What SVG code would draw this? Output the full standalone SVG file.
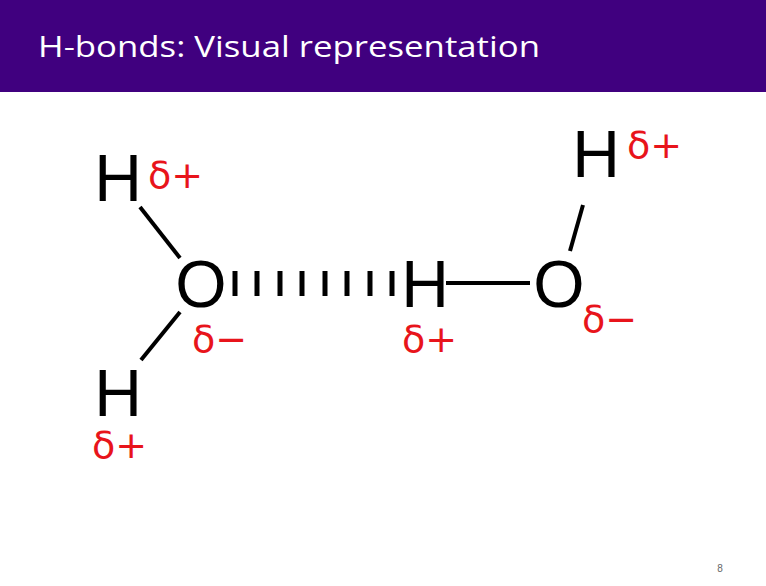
<svg xmlns="http://www.w3.org/2000/svg" width="766" height="586" viewBox="0 0 766 586">
<style>
.at{font-family:"Liberation Sans",Arial,sans-serif;font-size:66px;fill:#000;text-anchor:middle}
.ch{font-family:"DejaVu Sans","Liberation Sans",sans-serif;font-size:38px;fill:#e8141b}
.b{stroke:#000;stroke-width:4;fill:none}
</style>
<rect x="0" y="0" width="766" height="586" fill="#fff"/>
<g id="title"><rect x="0" y="0" width="766" height="92" fill="#40007f"/>
<text x="38" y="57" font-family="'Open Sans','Liberation Sans',sans-serif" font-size="30" fill="#fff" textLength="502" lengthAdjust="spacingAndGlyphs">H-bonds: Visual representation</text></g>
<g id="connectors">
<line class="b" x1="140" y1="207" x2="180" y2="258"/>
<line class="b" x1="180" y1="312" x2="141" y2="360"/>
<line class="b" x1="446" y1="283" x2="530" y2="283"/>
<line class="b" x1="583" y1="205" x2="570" y2="251"/>
<g stroke="#000" stroke-width="5">
<line x1="235" y1="271" x2="235" y2="296"/><line x1="257" y1="271" x2="257" y2="296"/>
<line x1="280" y1="271" x2="280" y2="296"/><line x1="302" y1="271" x2="302" y2="296"/>
<line x1="325" y1="271" x2="325" y2="296"/><line x1="347" y1="271" x2="347" y2="296"/>
<line x1="370" y1="271" x2="370" y2="296"/><line x1="392" y1="271" x2="392" y2="296"/>
</g></g>
<g id="H1"><text class="at" x="118" y="201">H</text><text class="ch" x="148" y="188">δ+</text></g>
<g id="O1"><text class="at" x="201" y="307">O</text><text class="ch" x="192" y="352">δ−</text></g>
<g id="H2"><text class="at" x="118" y="416">H</text><text class="ch" x="92" y="458">δ+</text></g>
<g id="H3"><text class="at" x="425" y="307">H</text><text class="ch" x="402" y="352">δ+</text></g>
<g id="O2"><text class="at" x="559" y="307">O</text><text class="ch" x="582" y="332">δ−</text></g>
<g id="H4"><text class="at" x="596" y="177">H</text><text class="ch" x="627" y="158">δ+</text></g>
<text x="720" y="572" font-family="Liberation Sans,sans-serif" font-size="10" fill="#666" text-anchor="middle">8</text>
</svg>
